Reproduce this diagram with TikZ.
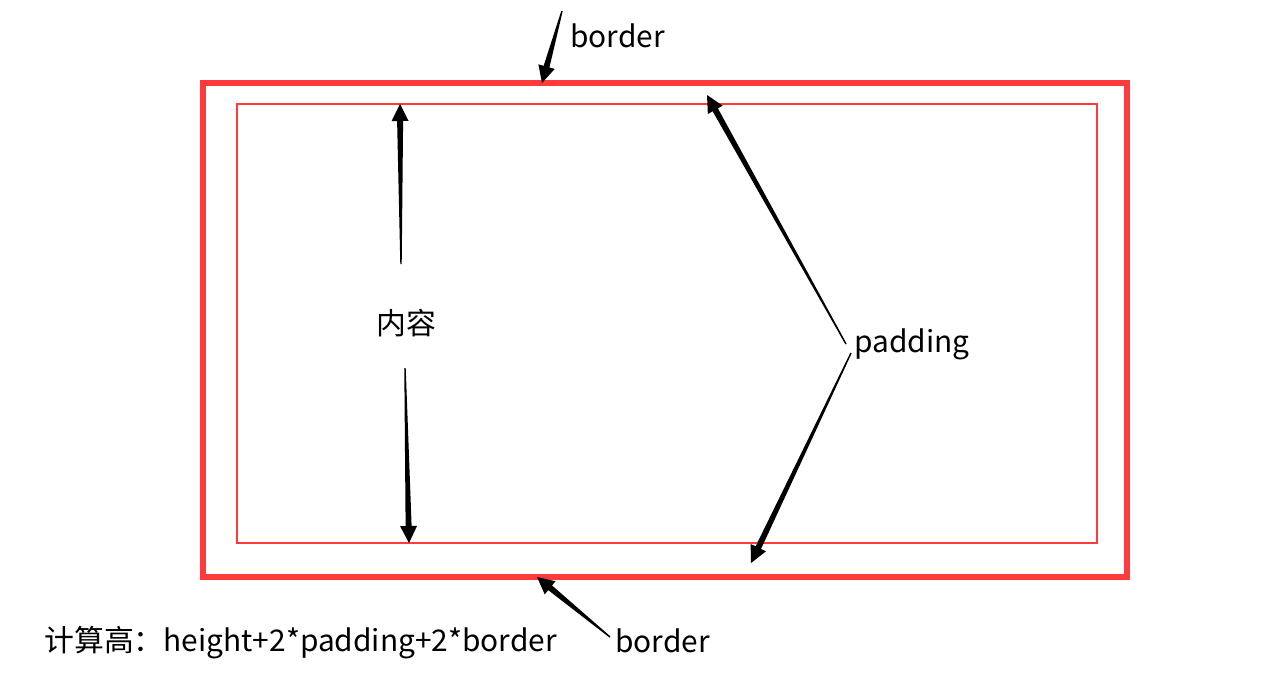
\documentclass[tikz,border=0pt]{standalone}
\usepackage{fontspec}
\setmainfont{Noto Sans CJK SC}
\usetikzlibrary{calc}
\definecolor{boxred}{RGB}{255,59,59}

% tapered arrow: thin at the tail, thick head at the tip
\newcommand{\taparrow}[2]{%
  \path ($(#2)!0.34cm!(#1)$) coordinate (hb);
  \fill ($(#1)!0.4pt!90:(#2)$) -- ($(hb)!0.06cm!90:(#2)$) -- ($(hb)!0.17cm!90:(#2)$) -- (#2)
    -- ($(hb)!0.17cm!-90:(#2)$) -- ($(hb)!0.06cm!-90:(#2)$) -- ($(#1)!0.4pt!-90:(#2)$) -- cycle;
}

\begin{document}
\begin{tikzpicture}[
        x=0.02cm, y=-0.02cm,
        every node/.style={font=\fontsize{17pt}{20pt}\selectfont, inner sep=0pt},
        outerbox/.style={draw=boxred, line width=3.8pt},
        innerbox/.style={draw=boxred, line width=0.7pt},
        lbl/.style={anchor=west},
    ]
    \useasboundingbox (0,0) rectangle (1276,687);

    \draw[outerbox] (203,83) rectangle (1127,577);
    \draw[innerbox] (237,104) rectangle (1097,543);

    \node[lbl](bordertop) at (570,36) {border};
    \node[](content) at (406,323) {内容};
    \node[lbl](padding) at (854,344) {padding};
    \node[lbl](borderbot) at (615,641) {border};
    \node[lbl](formula) at (44,643) {计算高：height+2*padding+2*border};

    \coordinate (tA) at (562,11);   \coordinate (hA) at (542,83);
    \coordinate (tB) at (610,637);  \coordinate (hB) at (537,577);
    \coordinate (tC) at (401,264);  \coordinate (hC) at (400,104);
    \coordinate (tD) at (405,368);  \coordinate (hD) at (409,543);
    \coordinate (tE) at (846,344);  \coordinate (hE) at (707,95);
    \coordinate (tF) at (851,353);  \coordinate (hF) at (751,563);

    \taparrow{tA}{hA}
    \taparrow{tB}{hB}
    \taparrow{tC}{hC}
    \taparrow{tD}{hD}
    \taparrow{tE}{hE}
    \taparrow{tF}{hF}

\end{tikzpicture}
\end{document}
